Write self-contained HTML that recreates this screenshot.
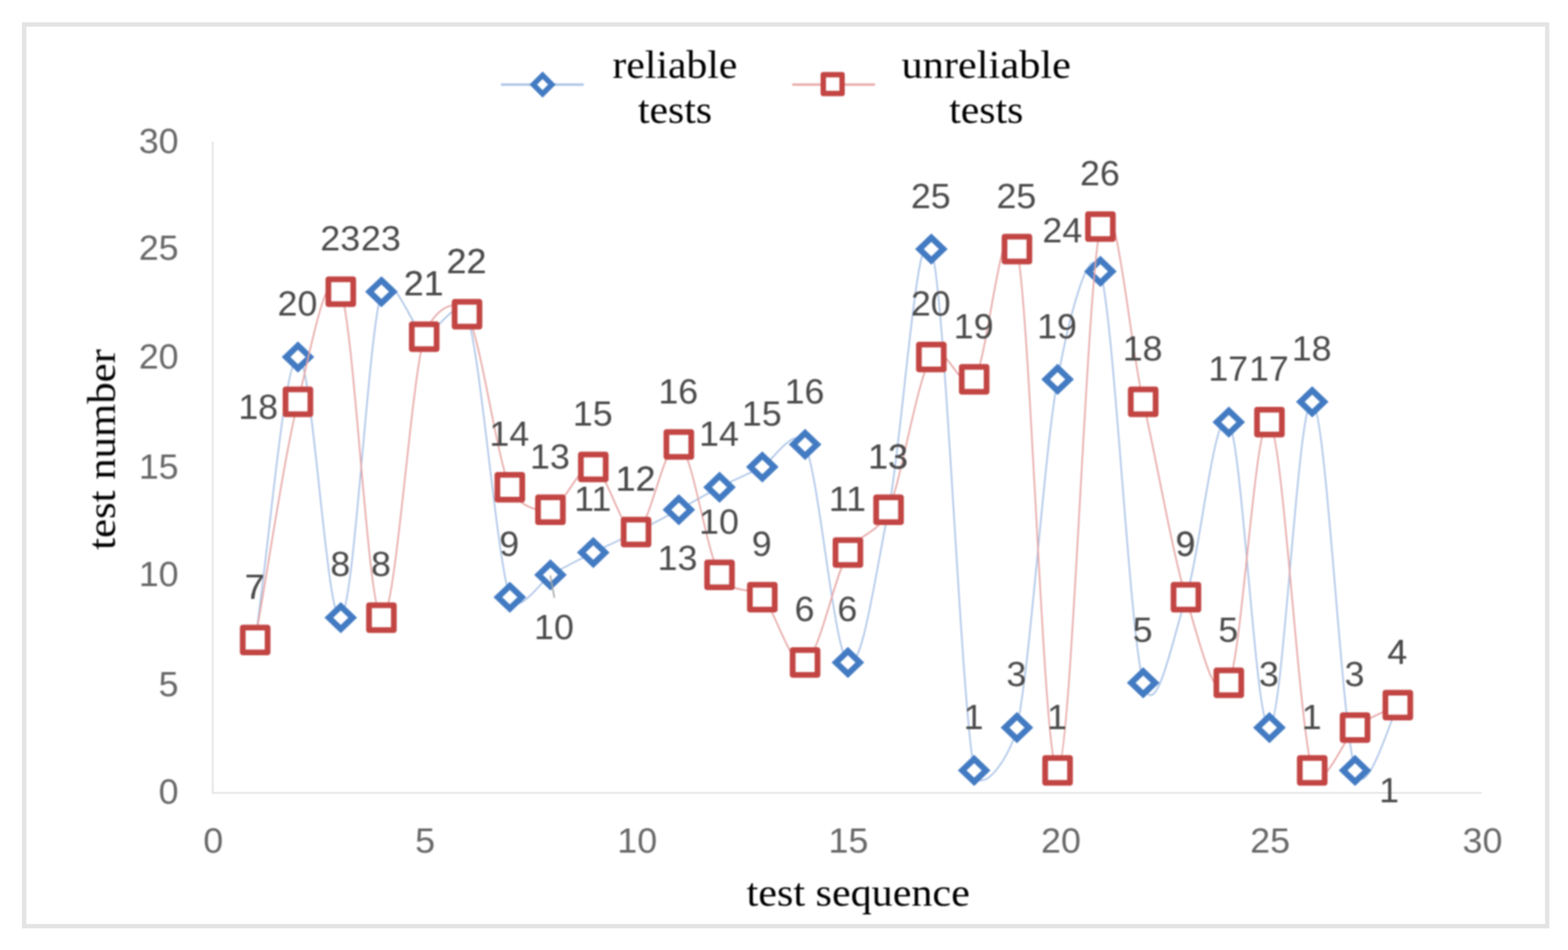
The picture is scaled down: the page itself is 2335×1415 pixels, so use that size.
<!DOCTYPE html>
<html lang="en"><head><meta charset="utf-8"><title>reliable vs unreliable tests</title>
<style>
html,body{margin:0;padding:0;background:#fff;}
body{width:2335px;height:1415px;overflow:hidden;}
svg{display:block;}
.soft{filter:blur(0.90px);}
.edge{filter:blur(0.45px);}
.num{font-family:"Liberation Sans", sans-serif;font-size:51.5px;}
.dl{fill:#4B4B4B;}
.tk{fill:#686868;}
.ser{font-family:"Liberation Serif", serif;font-size:60px;fill:#000;}
</style></head><body>
<svg width="2335" height="1415" viewBox="0 0 2335 1415" role="img" aria-label="Scatter chart of test number against test sequence for reliable and unreliable tests">
<rect x="0" y="0" width="2335" height="1415" fill="#fff"/>
<g class="edge">
<rect x="36" y="36.5" width="2268" height="1343" fill="none" stroke="#E4E4E4" stroke-width="6.5"/>
<path d="M316.8 211 V1181 H2206.5" fill="none" stroke="#E9E9E9" stroke-width="3.0"/>
</g>
<g class="soft">
<path d="M380.0 953.3 C401.2 812.8 422.5 537.3 443.7 531.7 C465.0 526.1 486.7 936.1 507.5 919.9 C528.2 903.7 547.3 504.4 568.0 434.6 C581.1 390.4 618.3 497.8 631.7 501.4 C643.0 504.3 684.2 433.8 695.5 468.0 C716.7 532.7 738.5 824.9 759.2 889.6 C769.7 922.5 809.2 861.9 819.7 856.2 C840.4 845.1 862.2 833.5 883.5 822.9 C904.7 812.3 926.0 803.2 947.2 792.5 C968.4 781.9 990.2 770.3 1010.9 759.2 C1031.6 748.1 1050.8 736.4 1071.5 725.8 C1092.2 715.2 1114.0 706.1 1135.2 695.5 C1149.6 688.3 1184.5 629.2 1198.9 662.1 C1220.2 710.6 1241.9 970.5 1262.7 986.7 C1283.4 1002.8 1302.5 861.8 1323.2 759.2 C1343.9 656.6 1365.7 306.2 1386.9 371.0 C1408.2 435.7 1429.4 1028.6 1450.7 1147.4 C1458.6 1191.7 1505.0 1127.8 1514.4 1083.7 C1535.1 986.7 1554.2 678.3 1574.9 565.1 C1590.5 480.0 1622.7 347.7 1638.7 404.3 C1659.9 479.6 1681.2 936.1 1702.4 1017.0 C1720.5 1085.9 1748.0 944.7 1766.1 889.6 C1787.4 824.9 1809.1 596.4 1829.9 628.8 C1850.6 661.1 1869.7 1088.8 1890.4 1083.7 C1911.1 1078.7 1932.9 587.8 1954.1 598.4 C1975.4 609.0 1996.6 1072.1 2017.9 1147.4 C2033.6 1203.3 2073.7 1062.3 2081.6 1050.3" fill="none" stroke="#A8C2E6" stroke-width="2.3"/>
<g>
<path d="M443.7 514.7 L461.5 531.7 L443.7 548.7 L426.0 531.7 Z" fill="#fff" stroke="#437BC3" stroke-width="9.0" stroke-linejoin="miter"/>
<path d="M507.5 902.9 L525.2 919.9 L507.5 936.9 L489.7 919.9 Z" fill="#fff" stroke="#437BC3" stroke-width="9.0" stroke-linejoin="miter"/>
<path d="M568.0 417.6 L585.8 434.6 L568.0 451.6 L550.2 434.6 Z" fill="#fff" stroke="#437BC3" stroke-width="9.0" stroke-linejoin="miter"/>
<path d="M759.2 872.6 L777.0 889.6 L759.2 906.6 L741.4 889.6 Z" fill="#fff" stroke="#437BC3" stroke-width="9.0" stroke-linejoin="miter"/>
<path d="M819.7 839.2 L837.5 856.2 L819.7 873.2 L802.0 856.2 Z" fill="#fff" stroke="#437BC3" stroke-width="9.0" stroke-linejoin="miter"/>
<path d="M883.5 805.9 L901.2 822.9 L883.5 839.9 L865.7 822.9 Z" fill="#fff" stroke="#437BC3" stroke-width="9.0" stroke-linejoin="miter"/>
<path d="M1010.9 742.2 L1028.7 759.2 L1010.9 776.2 L993.2 759.2 Z" fill="#fff" stroke="#437BC3" stroke-width="9.0" stroke-linejoin="miter"/>
<path d="M1071.5 708.8 L1089.2 725.8 L1071.5 742.8 L1053.7 725.8 Z" fill="#fff" stroke="#437BC3" stroke-width="9.0" stroke-linejoin="miter"/>
<path d="M1135.2 678.5 L1153.0 695.5 L1135.2 712.5 L1117.4 695.5 Z" fill="#fff" stroke="#437BC3" stroke-width="9.0" stroke-linejoin="miter"/>
<path d="M1198.9 645.1 L1216.7 662.1 L1198.9 679.1 L1181.2 662.1 Z" fill="#fff" stroke="#437BC3" stroke-width="9.0" stroke-linejoin="miter"/>
<path d="M1262.7 969.7 L1280.4 986.7 L1262.7 1003.7 L1244.9 986.7 Z" fill="#fff" stroke="#437BC3" stroke-width="9.0" stroke-linejoin="miter"/>
<path d="M1386.9 354.0 L1404.7 371.0 L1386.9 388.0 L1369.2 371.0 Z" fill="#fff" stroke="#437BC3" stroke-width="9.0" stroke-linejoin="miter"/>
<path d="M1450.7 1130.4 L1468.4 1147.4 L1450.7 1164.4 L1432.9 1147.4 Z" fill="#fff" stroke="#437BC3" stroke-width="9.0" stroke-linejoin="miter"/>
<path d="M1514.4 1066.7 L1532.2 1083.7 L1514.4 1100.7 L1496.6 1083.7 Z" fill="#fff" stroke="#437BC3" stroke-width="9.0" stroke-linejoin="miter"/>
<path d="M1574.9 548.1 L1592.7 565.1 L1574.9 582.1 L1557.2 565.1 Z" fill="#fff" stroke="#437BC3" stroke-width="9.0" stroke-linejoin="miter"/>
<path d="M1638.7 387.3 L1656.4 404.3 L1638.7 421.3 L1620.9 404.3 Z" fill="#fff" stroke="#437BC3" stroke-width="9.0" stroke-linejoin="miter"/>
<path d="M1702.4 1000.0 L1720.2 1017.0 L1702.4 1034.0 L1684.6 1017.0 Z" fill="#fff" stroke="#437BC3" stroke-width="9.0" stroke-linejoin="miter"/>
<path d="M1829.9 611.8 L1847.6 628.8 L1829.9 645.8 L1812.1 628.8 Z" fill="#fff" stroke="#437BC3" stroke-width="9.0" stroke-linejoin="miter"/>
<path d="M1890.4 1066.7 L1908.2 1083.7 L1890.4 1100.7 L1872.6 1083.7 Z" fill="#fff" stroke="#437BC3" stroke-width="9.0" stroke-linejoin="miter"/>
<path d="M1954.1 581.4 L1971.9 598.4 L1954.1 615.4 L1936.4 598.4 Z" fill="#fff" stroke="#437BC3" stroke-width="9.0" stroke-linejoin="miter"/>
<path d="M2017.9 1130.4 L2035.6 1147.4 L2017.9 1164.4 L2000.1 1147.4 Z" fill="#fff" stroke="#437BC3" stroke-width="9.0" stroke-linejoin="miter"/>
</g>
<path d="M380.0 953.3 C401.2 835.0 422.5 684.9 443.7 598.4 C464.7 513.1 487.0 381.7 507.5 434.6 C528.2 488.2 547.3 908.8 568.0 919.9 C588.7 931.0 610.5 576.7 631.7 501.4 C641.5 466.8 677.7 436.7 695.5 468.0 C716.7 505.4 738.5 677.3 759.2 725.8 C772.8 757.6 806.2 762.5 819.7 759.2 C840.4 754.1 862.2 689.9 883.5 695.5 C904.7 701.0 926.0 798.1 947.2 792.5 C968.4 787.0 990.2 651.5 1010.9 662.1 C1031.6 672.7 1050.8 818.3 1071.5 856.2 C1088.7 887.8 1117.5 871.5 1135.2 889.6 C1156.4 911.3 1177.7 997.8 1198.9 986.7 C1220.2 975.5 1241.9 860.8 1262.7 822.9 C1279.9 791.3 1306.0 799.6 1323.2 759.2 C1343.9 710.6 1365.7 564.1 1386.9 531.7 C1406.7 501.6 1430.9 590.0 1450.7 565.1 C1471.9 538.3 1493.7 273.9 1514.4 371.0 C1535.1 468.0 1554.2 1153.0 1574.9 1147.4 C1595.6 1141.8 1617.4 429.1 1638.7 337.6 C1659.9 246.1 1681.2 506.4 1702.4 598.4 C1723.6 690.4 1744.9 819.8 1766.1 889.6 C1786.9 957.7 1809.6 1059.4 1829.9 1017.0 C1850.6 973.5 1869.7 607.0 1890.4 628.8 C1911.1 650.5 1932.9 1071.6 1954.1 1147.4 C1966.3 1190.8 2005.7 1093.0 2017.9 1083.7 C2039.1 1067.5 2060.3 1061.5 2081.6 1050.3" fill="none" stroke="#E6A4A3" stroke-width="2.3"/>
<g>
<rect x="361.5" y="934.8" width="37.0" height="37.0" fill="#fff" stroke="#C24543" stroke-width="8.5" stroke-linejoin="round"/>
<rect x="425.2" y="579.9" width="37.0" height="37.0" fill="#fff" stroke="#C24543" stroke-width="8.5" stroke-linejoin="round"/>
<rect x="489.0" y="416.1" width="37.0" height="37.0" fill="#fff" stroke="#C24543" stroke-width="8.5" stroke-linejoin="round"/>
<rect x="549.5" y="901.4" width="37.0" height="37.0" fill="#fff" stroke="#C24543" stroke-width="8.5" stroke-linejoin="round"/>
<rect x="613.2" y="482.9" width="37.0" height="37.0" fill="#fff" stroke="#C24543" stroke-width="8.5" stroke-linejoin="round"/>
<rect x="677.0" y="449.5" width="37.0" height="37.0" fill="#fff" stroke="#C24543" stroke-width="8.5" stroke-linejoin="round"/>
<rect x="740.7" y="707.3" width="37.0" height="37.0" fill="#fff" stroke="#C24543" stroke-width="8.5" stroke-linejoin="round"/>
<rect x="801.2" y="740.7" width="37.0" height="37.0" fill="#fff" stroke="#C24543" stroke-width="8.5" stroke-linejoin="round"/>
<rect x="865.0" y="677.0" width="37.0" height="37.0" fill="#fff" stroke="#C24543" stroke-width="8.5" stroke-linejoin="round"/>
<rect x="928.7" y="774.0" width="37.0" height="37.0" fill="#fff" stroke="#C24543" stroke-width="8.5" stroke-linejoin="round"/>
<rect x="992.4" y="643.6" width="37.0" height="37.0" fill="#fff" stroke="#C24543" stroke-width="8.5" stroke-linejoin="round"/>
<rect x="1053.0" y="837.7" width="37.0" height="37.0" fill="#fff" stroke="#C24543" stroke-width="8.5" stroke-linejoin="round"/>
<rect x="1116.7" y="871.1" width="37.0" height="37.0" fill="#fff" stroke="#C24543" stroke-width="8.5" stroke-linejoin="round"/>
<rect x="1180.4" y="968.2" width="37.0" height="37.0" fill="#fff" stroke="#C24543" stroke-width="8.5" stroke-linejoin="round"/>
<rect x="1244.2" y="804.4" width="37.0" height="37.0" fill="#fff" stroke="#C24543" stroke-width="8.5" stroke-linejoin="round"/>
<rect x="1304.7" y="740.7" width="37.0" height="37.0" fill="#fff" stroke="#C24543" stroke-width="8.5" stroke-linejoin="round"/>
<rect x="1368.4" y="513.2" width="37.0" height="37.0" fill="#fff" stroke="#C24543" stroke-width="8.5" stroke-linejoin="round"/>
<rect x="1432.2" y="546.6" width="37.0" height="37.0" fill="#fff" stroke="#C24543" stroke-width="8.5" stroke-linejoin="round"/>
<rect x="1495.9" y="352.5" width="37.0" height="37.0" fill="#fff" stroke="#C24543" stroke-width="8.5" stroke-linejoin="round"/>
<rect x="1556.4" y="1128.9" width="37.0" height="37.0" fill="#fff" stroke="#C24543" stroke-width="8.5" stroke-linejoin="round"/>
<rect x="1620.2" y="319.1" width="37.0" height="37.0" fill="#fff" stroke="#C24543" stroke-width="8.5" stroke-linejoin="round"/>
<rect x="1683.9" y="579.9" width="37.0" height="37.0" fill="#fff" stroke="#C24543" stroke-width="8.5" stroke-linejoin="round"/>
<rect x="1747.6" y="871.1" width="37.0" height="37.0" fill="#fff" stroke="#C24543" stroke-width="8.5" stroke-linejoin="round"/>
<rect x="1811.4" y="998.5" width="37.0" height="37.0" fill="#fff" stroke="#C24543" stroke-width="8.5" stroke-linejoin="round"/>
<rect x="1871.9" y="610.3" width="37.0" height="37.0" fill="#fff" stroke="#C24543" stroke-width="8.5" stroke-linejoin="round"/>
<rect x="1935.6" y="1128.9" width="37.0" height="37.0" fill="#fff" stroke="#C24543" stroke-width="8.5" stroke-linejoin="round"/>
<rect x="1999.4" y="1065.2" width="37.0" height="37.0" fill="#fff" stroke="#C24543" stroke-width="8.5" stroke-linejoin="round"/>
<rect x="2063.1" y="1031.8" width="37.0" height="37.0" fill="#fff" stroke="#C24543" stroke-width="8.5" stroke-linejoin="round"/>
</g>
<path d="M819.5 857 L825.6 890.5" fill="none" stroke="#A6A6A6" stroke-width="2.2"/>
<g>
<text class="num dl" transform="translate(379.2 891.8) scale(1.035 1)" text-anchor="middle">7</text>
<text class="num dl" transform="translate(442.9 470.2) scale(1.035 1)" text-anchor="middle">20</text>
<text class="num dl" transform="translate(506.7 858.4) scale(1.035 1)" text-anchor="middle">8</text>
<text class="num dl" transform="translate(567.2 373.1) scale(1.035 1)" text-anchor="middle">23</text>
<text class="num dl" transform="translate(630.9 439.9) scale(1.035 1)" text-anchor="middle">21</text>
<text class="num dl" transform="translate(694.7 406.5) scale(1.035 1)" text-anchor="middle">22</text>
<text class="num dl" transform="translate(758.4 828.1) scale(1.035 1)" text-anchor="middle">9</text>
<text class="num dl" transform="translate(825.0 952.0) scale(1.035 1)" text-anchor="middle">10</text>
<text class="num dl" transform="translate(882.7 761.4) scale(1.035 1)" text-anchor="middle">11</text>
<text class="num dl" transform="translate(946.4 731.0) scale(1.035 1)" text-anchor="middle">12</text>
<text class="num dl" transform="translate(1009.0 849.0) scale(1.035 1)" text-anchor="middle">13</text>
<text class="num dl" transform="translate(1070.7 664.3) scale(1.035 1)" text-anchor="middle">14</text>
<text class="num dl" transform="translate(1134.4 634.0) scale(1.035 1)" text-anchor="middle">15</text>
<text class="num dl" transform="translate(1198.1 600.6) scale(1.035 1)" text-anchor="middle">16</text>
<text class="num dl" transform="translate(1261.9 925.2) scale(1.035 1)" text-anchor="middle">6</text>
<text class="num dl" transform="translate(1322.4 697.7) scale(1.035 1)" text-anchor="middle">13</text>
<text class="num dl" transform="translate(1386.1 309.5) scale(1.035 1)" text-anchor="middle">25</text>
<text class="num dl" transform="translate(1449.9 1085.9) scale(1.035 1)" text-anchor="middle">1</text>
<text class="num dl" transform="translate(1513.6 1022.2) scale(1.035 1)" text-anchor="middle">3</text>
<text class="num dl" transform="translate(1574.1 503.6) scale(1.035 1)" text-anchor="middle">19</text>
<text class="num dl" transform="translate(1582.0 361.0) scale(1.035 1)" text-anchor="middle">24</text>
<text class="num dl" transform="translate(1701.6 955.5) scale(1.035 1)" text-anchor="middle">5</text>
<text class="num dl" transform="translate(1765.3 828.1) scale(1.035 1)" text-anchor="middle">9</text>
<text class="num dl" transform="translate(1829.1 567.3) scale(1.035 1)" text-anchor="middle">17</text>
<text class="num dl" transform="translate(1889.6 1022.2) scale(1.035 1)" text-anchor="middle">3</text>
<text class="num dl" transform="translate(1953.3 536.9) scale(1.035 1)" text-anchor="middle">18</text>
<text class="num dl" transform="translate(2068.5 1194.6) scale(1.035 1)" text-anchor="middle">1</text>
<text class="num dl" transform="translate(2080.8 988.8) scale(1.035 1)" text-anchor="middle">4</text>
</g><g>
<text class="num dl" transform="translate(379.2 891.8) scale(1.035 1)" text-anchor="middle">7</text>
<text class="num dl" transform="translate(384.6 624.2) scale(1.035 1)" text-anchor="middle">18</text>
<text class="num dl" transform="translate(506.7 373.1) scale(1.035 1)" text-anchor="middle">23</text>
<text class="num dl" transform="translate(567.2 858.4) scale(1.035 1)" text-anchor="middle">8</text>
<text class="num dl" transform="translate(630.9 439.9) scale(1.035 1)" text-anchor="middle">21</text>
<text class="num dl" transform="translate(694.7 406.5) scale(1.035 1)" text-anchor="middle">22</text>
<text class="num dl" transform="translate(758.4 664.3) scale(1.035 1)" text-anchor="middle">14</text>
<text class="num dl" transform="translate(818.9 697.7) scale(1.035 1)" text-anchor="middle">13</text>
<text class="num dl" transform="translate(882.7 634.0) scale(1.035 1)" text-anchor="middle">15</text>
<text class="num dl" transform="translate(946.4 731.0) scale(1.035 1)" text-anchor="middle">12</text>
<text class="num dl" transform="translate(1010.1 600.6) scale(1.035 1)" text-anchor="middle">16</text>
<text class="num dl" transform="translate(1070.7 794.7) scale(1.035 1)" text-anchor="middle">10</text>
<text class="num dl" transform="translate(1134.4 828.1) scale(1.035 1)" text-anchor="middle">9</text>
<text class="num dl" transform="translate(1198.1 925.2) scale(1.035 1)" text-anchor="middle">6</text>
<text class="num dl" transform="translate(1261.9 761.4) scale(1.035 1)" text-anchor="middle">11</text>
<text class="num dl" transform="translate(1322.4 697.7) scale(1.035 1)" text-anchor="middle">13</text>
<text class="num dl" transform="translate(1386.1 470.2) scale(1.035 1)" text-anchor="middle">20</text>
<text class="num dl" transform="translate(1449.9 503.6) scale(1.035 1)" text-anchor="middle">19</text>
<text class="num dl" transform="translate(1513.6 309.5) scale(1.035 1)" text-anchor="middle">25</text>
<text class="num dl" transform="translate(1574.1 1085.9) scale(1.035 1)" text-anchor="middle">1</text>
<text class="num dl" transform="translate(1637.9 276.1) scale(1.035 1)" text-anchor="middle">26</text>
<text class="num dl" transform="translate(1701.6 536.9) scale(1.035 1)" text-anchor="middle">18</text>
<text class="num dl" transform="translate(1765.3 828.1) scale(1.035 1)" text-anchor="middle">9</text>
<text class="num dl" transform="translate(1829.1 955.5) scale(1.035 1)" text-anchor="middle">5</text>
<text class="num dl" transform="translate(1889.6 567.3) scale(1.035 1)" text-anchor="middle">17</text>
<text class="num dl" transform="translate(1953.3 1085.9) scale(1.035 1)" text-anchor="middle">1</text>
<text class="num dl" transform="translate(2017.1 1022.2) scale(1.035 1)" text-anchor="middle">3</text>
<text class="num dl" transform="translate(2080.8 988.8) scale(1.035 1)" text-anchor="middle">4</text>
</g>
<g>
<text class="num tk" transform="translate(266.0 1197.2) scale(1.035 1)" text-anchor="end">0</text>
<text class="num tk" transform="translate(266.0 1036.8) scale(1.035 1)" text-anchor="end">5</text>
<text class="num tk" transform="translate(266.0 872.8) scale(1.035 1)" text-anchor="end">10</text>
<text class="num tk" transform="translate(266.0 712.8) scale(1.035 1)" text-anchor="end">15</text>
<text class="num tk" transform="translate(266.0 549.1) scale(1.035 1)" text-anchor="end">20</text>
<text class="num tk" transform="translate(266.0 387.4) scale(1.035 1)" text-anchor="end">25</text>
<text class="num tk" transform="translate(266.0 227.5) scale(1.035 1)" text-anchor="end">30</text>
</g><g>
<text class="num tk" transform="translate(317.5 1269.7) scale(1.035 1)" text-anchor="middle">0</text>
<text class="num tk" transform="translate(633.0 1269.7) scale(1.035 1)" text-anchor="middle">5</text>
<text class="num tk" transform="translate(949.0 1269.7) scale(1.035 1)" text-anchor="middle">10</text>
<text class="num tk" transform="translate(1263.5 1269.7) scale(1.035 1)" text-anchor="middle">15</text>
<text class="num tk" transform="translate(1580.0 1269.7) scale(1.035 1)" text-anchor="middle">20</text>
<text class="num tk" transform="translate(1891.5 1269.7) scale(1.035 1)" text-anchor="middle">25</text>
<text class="num tk" transform="translate(2207.7 1269.7) scale(1.035 1)" text-anchor="middle">30</text>
</g>
<text class="ser" transform="translate(1278.0 1349.0) scale(1.045 1)" text-anchor="middle">test sequence</text>
<text class="ser" transform="translate(171.0 669.5) rotate(-90) scale(1.062 1)" text-anchor="middle">test number</text>
<path d="M746 126 H869.3" stroke="#A9C4E6" stroke-width="3.5" fill="none"/>
<path d="M808.0 112.2 L821.8 126.0 L808.0 139.8 L794.2 126.0 Z" fill="#fff" stroke="#437BC3" stroke-width="8.0" stroke-linejoin="miter"/>
<text class="ser" transform="translate(1005.1 115.8) scale(1.035 1)" text-anchor="middle">reliable</text>
<text class="ser" transform="translate(1005.1 182.8) scale(1.035 1)" text-anchor="middle">tests</text>
<path d="M1179.7 126 H1303" stroke="#E9A9A8" stroke-width="3.5" fill="none"/>
<rect x="1226.0" y="111.2" width="28.0" height="28.0" fill="#fff" stroke="#C24543" stroke-width="8.0" stroke-linejoin="round"/>
<text class="ser" transform="translate(1468.6 115.8) scale(1.052 1)" text-anchor="middle">unreliable</text>
<text class="ser" transform="translate(1468.6 182.8) scale(1.035 1)" text-anchor="middle">tests</text>
</g>
</svg>
</body></html>
